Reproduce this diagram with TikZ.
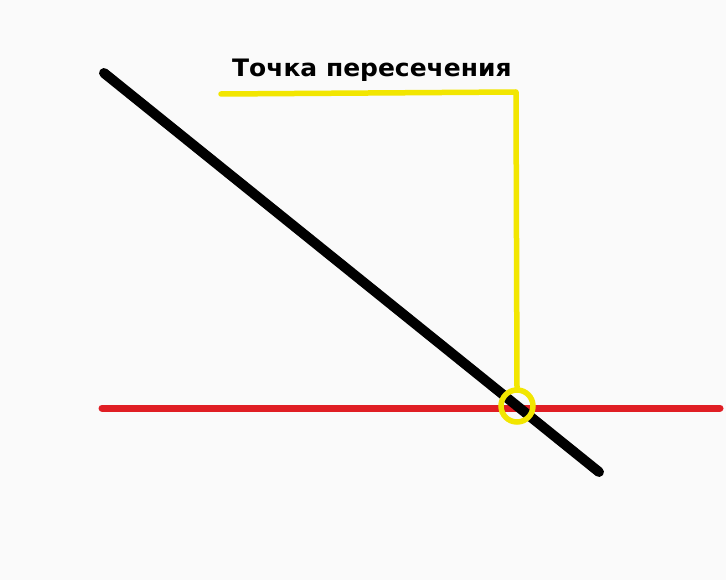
\documentclass[tikz,border=0pt]{standalone}
\usepackage{fontspec}
\newfontfamily\labelfont{DejaVu Sans}
\definecolor{bgc}{HTML}{FAFAFA}
\definecolor{redl}{HTML}{E01E24}
\definecolor{yell}{HTML}{F2E600}
\tikzset{
  px/.style={x=1pt,y=-1pt},
  blackline/.style={line width=10pt,line cap=round,black},
  redline/.style={line width=7pt,line cap=round,redl},
  yellowline/.style={line width=5.5pt,line cap=round,line join=round,yell},
  ring/.style={circle,draw=yell,line width=5.5pt,minimum size=32pt,inner sep=0pt},
}
\begin{document}
\begin{tikzpicture}[px]
\fill[bgc] (0,0) rectangle (726,580);
\useasboundingbox (0,0) rectangle (726,580);
\coordinate (b1) at (104,73);
\coordinate (b2) at (599,472);
\coordinate (r1) at (102,408);
\coordinate (r2) at (720,408);
\draw[redline] (r1) -- (r2);
\draw[blackline] (b1) -- (b2);
\node[ring] (c) at (517,406) {};
\coordinate (y1) at (221,94);
\coordinate (y2) at (516,92);
\draw[yellowline] (y1) -- (y2) -- (c.north);
\node[font=\labelfont\fontsize{24}{27}\selectfont\bfseries,anchor=base west,inner sep=0pt,xscale=1.04,transform shape] (t) at (232,77) {Точка пересечения};
\end{tikzpicture}
\end{document}
